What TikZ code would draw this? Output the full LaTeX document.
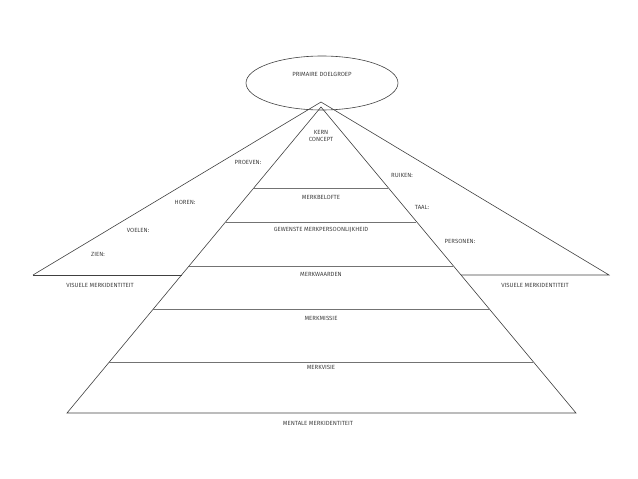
\documentclass[tikz,border=0pt]{standalone}
\usepackage{fontspec}
\setmainfont{Fira Sans}
\usetikzlibrary{shapes.geometric}
\begin{document}
\begin{tikzpicture}[x=1pt,y=-1pt,
  ln/.style={draw=black!75,line width=0.6pt},
  thin/.style={draw=black!55,line width=0.4pt},
  lbl/.style={font=\fontsize{6}{7}\selectfont,text=black!75,inner sep=0pt,align=center}]
\useasboundingbox (0,0) rectangle (638,479);
\node[ellipse,draw=black!75,line width=0.6pt,minimum width=152pt,minimum height=54pt,inner sep=0pt] (ell) at (322,83) {};
\node[lbl] (pd) at (322,74) {PRIMAIRE DOELGROEP};
\coordinate (oa) at (321,102);
\coordinate (ol) at (33,275);
\coordinate (or) at (609,275);
\coordinate (il) at (182,275);
\coordinate (ir) at (461,275);
\coordinate (ia) at (321,107);
\coordinate (bl) at (67,413);
\coordinate (br) at (576,413);
\draw[ln] (ol) -- (oa) -- (or) -- (ir);
\draw[ln] (ol) -- (il);
\draw[ln] (bl) -- (ia) -- (br) -- cycle;
\foreach \y in {188,222,266,309,362}{
  \pgfmathsetmacro\d{0.830065*(\y-107)}
  \draw[thin] (321-\d,\y) -- (321+\d,\y);
}
\node[lbl] (kc) at (321,136) {KERN\\CONCEPT};
\node[lbl] (mb) at (321,197) {MERKBELOFTE};
\node[lbl] (gm) at (321,230) {GEWENSTE MERKPERSOONLIJKHEID};
\node[lbl] (mw) at (321,274) {MERKWAARDEN};
\node[lbl] (mm) at (321,318) {MERKMISSIE};
\node[lbl] (mv) at (321,367) {MERKVISIE};
\node[lbl] (mi) at (318,423) {MENTALE MERKIDENTITEIT};
\node[lbl] (vl) at (100,285) {VISUELE MERKIDENTITEIT};
\node[lbl] (vr) at (535,285) {VISUELE MERKIDENTITEIT};
\node[lbl] (pr) at (248,162) {PROEVEN:};
\node[lbl] (ho) at (185,202) {HOREN:};
\node[lbl] (vo) at (138,230) {VOELEN:};
\node[lbl] (zi) at (98,254) {ZIEN:};
\node[lbl] (ru) at (402,175) {RUIKEN:};
\node[lbl] (ta) at (422,207) {TAAL:};
\node[lbl] (pe) at (460,241) {PERSONEN:};
\end{tikzpicture}
\end{document}
